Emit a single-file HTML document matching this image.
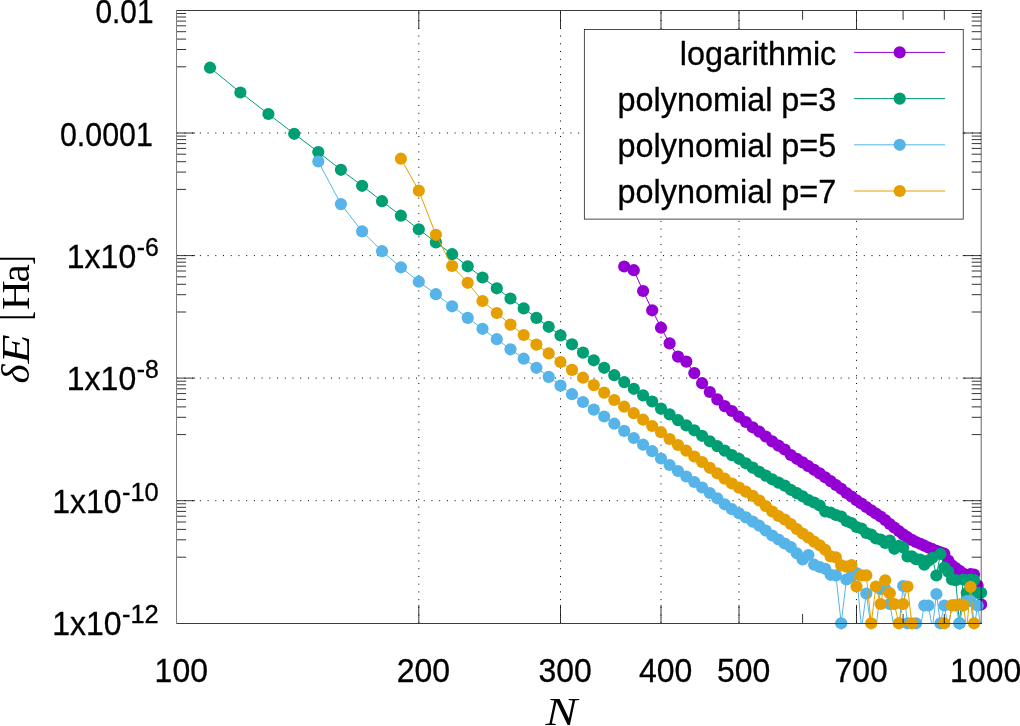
<!DOCTYPE html>
<html><head><meta charset="utf-8"><title>plot</title>
<style>html,body{margin:0;padding:0;background:#fff;}svg{display:block;}
</style></head><body>
<svg width="1020" height="726" viewBox="0 0 1020 726">
<defs><clipPath id="pc"><rect x="176.7" y="10.4" width="804.4" height="612.9"/></clipPath></defs>
<rect width="1020" height="726" fill="#fff"/>
<path d="M418.8 623.3V10.4M560.5 623.3V10.4M661 623.3V10.4M739 623.3V10.4M856.5 623.3V10.4M176.7 133H981.1M176.7 255.6H981.1M176.7 378.1H981.1M176.7 500.7H981.1" stroke="#000" stroke-width="1" stroke-dasharray="1 6.72" fill="none" />
<polyline points="624.2,266.5 633.8,270.2 643.1,291 652.2,310.3 661,327.7 669.6,343.4 678,356.6 686.3,361.6 694.3,373.1 702.1,383.2 709.8,392 717.3,399.4 724.7,406.1 731.9,411 739,416.7 745.9,422 752.7,427.3 759.3,431.7 765.8,436.5 772.2,441.4 778.5,445.6 784.7,449.5 790.8,455 796.8,458.8 802.6,462.4 808.4,466.2 814.1,469.8 819.7,473.4 825.2,477.3 830.6,481.1 835.9,485 841.2,488.8 846.4,493 851.5,496.5 856.5,500.3 861.5,503.5 866.3,507 871.2,510.3 875.9,513.5 880.6,516.5 885.2,520 889.8,524 894.3,527.5 898.8,531 903.1,534.4 907.5,537.2 911.8,539.9 916,542 920.2,543.8 924.3,545.7 928.4,547.5 932.4,549.2 936.4,550.9 940.4,552.3 944.3,553.7 948.2,560.5 952,565.3 955.7,568 959.5,570.8 963.2,573.5 966.8,576.3 970.5,574 974,574.5 977.6,585.6 981.1,604.4" fill="none" stroke="#9400d3" stroke-width="1" clip-path="url(#pc)"/>
<g fill="#9400d3"><circle cx="624.2" cy="266.5" r="6.1"/><circle cx="633.8" cy="270.2" r="6.1"/><circle cx="643.1" cy="291" r="6.1"/><circle cx="652.2" cy="310.3" r="6.1"/><circle cx="661" cy="327.7" r="6.1"/><circle cx="669.6" cy="343.4" r="6.1"/><circle cx="678" cy="356.6" r="6.1"/><circle cx="686.3" cy="361.6" r="6.1"/><circle cx="694.3" cy="373.1" r="6.1"/><circle cx="702.1" cy="383.2" r="6.1"/><circle cx="709.8" cy="392" r="6.1"/><circle cx="717.3" cy="399.4" r="6.1"/><circle cx="724.7" cy="406.1" r="6.1"/><circle cx="731.9" cy="411" r="6.1"/><circle cx="739" cy="416.7" r="6.1"/><circle cx="745.9" cy="422" r="6.1"/><circle cx="752.7" cy="427.3" r="6.1"/><circle cx="759.3" cy="431.7" r="6.1"/><circle cx="765.8" cy="436.5" r="6.1"/><circle cx="772.2" cy="441.4" r="6.1"/><circle cx="778.5" cy="445.6" r="6.1"/><circle cx="784.7" cy="449.5" r="6.1"/><circle cx="790.8" cy="455" r="6.1"/><circle cx="796.8" cy="458.8" r="6.1"/><circle cx="802.6" cy="462.4" r="6.1"/><circle cx="808.4" cy="466.2" r="6.1"/><circle cx="814.1" cy="469.8" r="6.1"/><circle cx="819.7" cy="473.4" r="6.1"/><circle cx="825.2" cy="477.3" r="6.1"/><circle cx="830.6" cy="481.1" r="6.1"/><circle cx="835.9" cy="485" r="6.1"/><circle cx="841.2" cy="488.8" r="6.1"/><circle cx="846.4" cy="493" r="6.1"/><circle cx="851.5" cy="496.5" r="6.1"/><circle cx="856.5" cy="500.3" r="6.1"/><circle cx="861.5" cy="503.5" r="6.1"/><circle cx="866.3" cy="507" r="6.1"/><circle cx="871.2" cy="510.3" r="6.1"/><circle cx="875.9" cy="513.5" r="6.1"/><circle cx="880.6" cy="516.5" r="6.1"/><circle cx="885.2" cy="520" r="6.1"/><circle cx="889.8" cy="524" r="6.1"/><circle cx="894.3" cy="527.5" r="6.1"/><circle cx="898.8" cy="531" r="6.1"/><circle cx="903.1" cy="534.4" r="6.1"/><circle cx="907.5" cy="537.2" r="6.1"/><circle cx="911.8" cy="539.9" r="6.1"/><circle cx="916" cy="542" r="6.1"/><circle cx="920.2" cy="543.8" r="6.1"/><circle cx="924.3" cy="545.7" r="6.1"/><circle cx="928.4" cy="547.5" r="6.1"/><circle cx="932.4" cy="549.2" r="6.1"/><circle cx="936.4" cy="550.9" r="6.1"/><circle cx="940.4" cy="552.3" r="6.1"/><circle cx="944.3" cy="553.7" r="6.1"/><circle cx="948.2" cy="560.5" r="6.1"/><circle cx="952" cy="565.3" r="6.1"/><circle cx="955.7" cy="568" r="6.1"/><circle cx="959.5" cy="570.8" r="6.1"/><circle cx="963.2" cy="573.5" r="6.1"/><circle cx="966.8" cy="576.3" r="6.1"/><circle cx="970.5" cy="574" r="6.1"/><circle cx="974" cy="574.5" r="6.1"/><circle cx="977.6" cy="585.6" r="6.1"/><circle cx="981.1" cy="604.4" r="6.1"/></g>
<polyline points="210,67.7 240.4,92.5 268.4,114 294.2,133.8 318.3,152 340.9,169.8 362.1,185.8 382,201.2 400.9,215.7 418.8,229.3 435.9,242.4 452.1,254.2 467.7,266.3 482.5,277.5 496.8,288.3 510.5,298.5 523.7,308.4 536.4,317.9 548.7,326.8 560.5,335.4 572,344.3 583,352.6 593.8,360.3 604.2,367.8 614.3,375.2 624.2,382.1 633.8,388.8 643.1,395.4 652.2,401.5 661,408.6 669.6,414.4 678,420.1 686.3,425.4 694.3,430.3 702.1,435.8 709.8,441.3 717.3,446.1 724.7,450.6 731.9,455.1 739,458.8 745.9,463.3 752.7,467.6 759.3,471.8 765.8,475.6 772.2,479.3 778.5,482.6 784.7,485.6 790.8,489.8 796.8,493.1 802.6,496.3 808.4,500 814.1,502.5 819.7,505.5 825.2,511.5 830.6,512.5 835.9,515 841.2,516.5 846.4,521 851.5,523 856.5,527 861.5,528.5 866.3,533 871.2,534.5 875.9,538.5 880.6,539.5 885.2,543 889.8,540.5 894.3,548.8 898.8,545.8 903.1,547.5 907.5,556.4 911.8,556.4 916,559.2 920.2,559.5 924.3,564.7 928.4,560.6 932.4,557.8 936.4,575.5 940.4,554 944.3,567.5 948.2,571.6 952,579.5 955.7,580.2 959.5,623.3 963.2,579.5 966.8,592.8 970.5,579.5 974,580 977.6,592.8 981.1,592.8" fill="none" stroke="#009e73" stroke-width="1" clip-path="url(#pc)"/>
<g fill="#009e73"><circle cx="210" cy="67.7" r="6.1"/><circle cx="240.4" cy="92.5" r="6.1"/><circle cx="268.4" cy="114" r="6.1"/><circle cx="294.2" cy="133.8" r="6.1"/><circle cx="318.3" cy="152" r="6.1"/><circle cx="340.9" cy="169.8" r="6.1"/><circle cx="362.1" cy="185.8" r="6.1"/><circle cx="382" cy="201.2" r="6.1"/><circle cx="400.9" cy="215.7" r="6.1"/><circle cx="418.8" cy="229.3" r="6.1"/><circle cx="435.9" cy="242.4" r="6.1"/><circle cx="452.1" cy="254.2" r="6.1"/><circle cx="467.7" cy="266.3" r="6.1"/><circle cx="482.5" cy="277.5" r="6.1"/><circle cx="496.8" cy="288.3" r="6.1"/><circle cx="510.5" cy="298.5" r="6.1"/><circle cx="523.7" cy="308.4" r="6.1"/><circle cx="536.4" cy="317.9" r="6.1"/><circle cx="548.7" cy="326.8" r="6.1"/><circle cx="560.5" cy="335.4" r="6.1"/><circle cx="572" cy="344.3" r="6.1"/><circle cx="583" cy="352.6" r="6.1"/><circle cx="593.8" cy="360.3" r="6.1"/><circle cx="604.2" cy="367.8" r="6.1"/><circle cx="614.3" cy="375.2" r="6.1"/><circle cx="624.2" cy="382.1" r="6.1"/><circle cx="633.8" cy="388.8" r="6.1"/><circle cx="643.1" cy="395.4" r="6.1"/><circle cx="652.2" cy="401.5" r="6.1"/><circle cx="661" cy="408.6" r="6.1"/><circle cx="669.6" cy="414.4" r="6.1"/><circle cx="678" cy="420.1" r="6.1"/><circle cx="686.3" cy="425.4" r="6.1"/><circle cx="694.3" cy="430.3" r="6.1"/><circle cx="702.1" cy="435.8" r="6.1"/><circle cx="709.8" cy="441.3" r="6.1"/><circle cx="717.3" cy="446.1" r="6.1"/><circle cx="724.7" cy="450.6" r="6.1"/><circle cx="731.9" cy="455.1" r="6.1"/><circle cx="739" cy="458.8" r="6.1"/><circle cx="745.9" cy="463.3" r="6.1"/><circle cx="752.7" cy="467.6" r="6.1"/><circle cx="759.3" cy="471.8" r="6.1"/><circle cx="765.8" cy="475.6" r="6.1"/><circle cx="772.2" cy="479.3" r="6.1"/><circle cx="778.5" cy="482.6" r="6.1"/><circle cx="784.7" cy="485.6" r="6.1"/><circle cx="790.8" cy="489.8" r="6.1"/><circle cx="796.8" cy="493.1" r="6.1"/><circle cx="802.6" cy="496.3" r="6.1"/><circle cx="808.4" cy="500" r="6.1"/><circle cx="814.1" cy="502.5" r="6.1"/><circle cx="819.7" cy="505.5" r="6.1"/><circle cx="825.2" cy="511.5" r="6.1"/><circle cx="830.6" cy="512.5" r="6.1"/><circle cx="835.9" cy="515" r="6.1"/><circle cx="841.2" cy="516.5" r="6.1"/><circle cx="846.4" cy="521" r="6.1"/><circle cx="851.5" cy="523" r="6.1"/><circle cx="856.5" cy="527" r="6.1"/><circle cx="861.5" cy="528.5" r="6.1"/><circle cx="866.3" cy="533" r="6.1"/><circle cx="871.2" cy="534.5" r="6.1"/><circle cx="875.9" cy="538.5" r="6.1"/><circle cx="880.6" cy="539.5" r="6.1"/><circle cx="885.2" cy="543" r="6.1"/><circle cx="889.8" cy="540.5" r="6.1"/><circle cx="894.3" cy="548.8" r="6.1"/><circle cx="898.8" cy="545.8" r="6.1"/><circle cx="903.1" cy="547.5" r="6.1"/><circle cx="907.5" cy="556.4" r="6.1"/><circle cx="911.8" cy="556.4" r="6.1"/><circle cx="916" cy="559.2" r="6.1"/><circle cx="920.2" cy="559.5" r="6.1"/><circle cx="924.3" cy="564.7" r="6.1"/><circle cx="928.4" cy="560.6" r="6.1"/><circle cx="932.4" cy="557.8" r="6.1"/><circle cx="936.4" cy="575.5" r="6.1"/><circle cx="940.4" cy="554" r="6.1"/><circle cx="944.3" cy="567.5" r="6.1"/><circle cx="948.2" cy="571.6" r="6.1"/><circle cx="952" cy="579.5" r="6.1"/><circle cx="955.7" cy="580.2" r="6.1"/><circle cx="959.5" cy="623.3" r="6.1"/><circle cx="963.2" cy="579.5" r="6.1"/><circle cx="966.8" cy="592.8" r="6.1"/><circle cx="970.5" cy="579.5" r="6.1"/><circle cx="974" cy="580" r="6.1"/><circle cx="977.6" cy="592.8" r="6.1"/><circle cx="981.1" cy="592.8" r="6.1"/></g>
<polyline points="318.3,161.5 340.9,204.1 362.1,231.4 382,251.2 400.9,267.3 418.8,281.7 435.9,294.2 452.1,306.3 467.7,317.9 482.5,328.8 496.8,339.2 510.5,349.3 523.7,358.7 536.4,367.8 548.7,376.9 560.5,385.6 572,394.2 583,402 593.8,409.6 604.2,416.5 614.3,423.7 624.2,430.9 633.8,438 643.1,444.7 652.2,451.2 661,458.5 669.6,465 678,471 686.3,476.5 694.3,482 702.1,487.5 709.8,493 717.3,498.3 724.7,504.3 731.9,509.2 739,513.3 745.9,517.4 752.7,521.6 759.3,525.7 765.8,530.5 772.2,535.5 778.5,539.5 784.7,543.5 790.8,547.1 796.8,553.3 802.6,559.5 808.4,555 814.1,564.7 819.7,567 825.2,568.8 830.6,574.8 835.9,575.4 841.2,623.3 846.4,579.5 851.5,576.5 856.5,573 861.5,628.5 866.3,593.5 871.2,628.5 875.9,628.5 880.6,589 885.2,589 889.8,604 894.3,628.5 898.8,628.5 903.1,586 907.5,623.3 911.8,628.5 916,623.3 920.2,628.5 924.3,605.5 928.4,605.5 932.4,628.5 936.4,594 940.4,623.3 944.3,605.5 948.2,628.5 952,605.5 955.7,605.5 959.5,623.3 963.2,605.5 966.8,601 970.5,601 974,628.5 977.6,605.5 981.1,628.5" fill="none" stroke="#56b4e9" stroke-width="1" clip-path="url(#pc)"/>
<g fill="#56b4e9"><circle cx="318.3" cy="161.5" r="6.1"/><circle cx="340.9" cy="204.1" r="6.1"/><circle cx="362.1" cy="231.4" r="6.1"/><circle cx="382" cy="251.2" r="6.1"/><circle cx="400.9" cy="267.3" r="6.1"/><circle cx="418.8" cy="281.7" r="6.1"/><circle cx="435.9" cy="294.2" r="6.1"/><circle cx="452.1" cy="306.3" r="6.1"/><circle cx="467.7" cy="317.9" r="6.1"/><circle cx="482.5" cy="328.8" r="6.1"/><circle cx="496.8" cy="339.2" r="6.1"/><circle cx="510.5" cy="349.3" r="6.1"/><circle cx="523.7" cy="358.7" r="6.1"/><circle cx="536.4" cy="367.8" r="6.1"/><circle cx="548.7" cy="376.9" r="6.1"/><circle cx="560.5" cy="385.6" r="6.1"/><circle cx="572" cy="394.2" r="6.1"/><circle cx="583" cy="402" r="6.1"/><circle cx="593.8" cy="409.6" r="6.1"/><circle cx="604.2" cy="416.5" r="6.1"/><circle cx="614.3" cy="423.7" r="6.1"/><circle cx="624.2" cy="430.9" r="6.1"/><circle cx="633.8" cy="438" r="6.1"/><circle cx="643.1" cy="444.7" r="6.1"/><circle cx="652.2" cy="451.2" r="6.1"/><circle cx="661" cy="458.5" r="6.1"/><circle cx="669.6" cy="465" r="6.1"/><circle cx="678" cy="471" r="6.1"/><circle cx="686.3" cy="476.5" r="6.1"/><circle cx="694.3" cy="482" r="6.1"/><circle cx="702.1" cy="487.5" r="6.1"/><circle cx="709.8" cy="493" r="6.1"/><circle cx="717.3" cy="498.3" r="6.1"/><circle cx="724.7" cy="504.3" r="6.1"/><circle cx="731.9" cy="509.2" r="6.1"/><circle cx="739" cy="513.3" r="6.1"/><circle cx="745.9" cy="517.4" r="6.1"/><circle cx="752.7" cy="521.6" r="6.1"/><circle cx="759.3" cy="525.7" r="6.1"/><circle cx="765.8" cy="530.5" r="6.1"/><circle cx="772.2" cy="535.5" r="6.1"/><circle cx="778.5" cy="539.5" r="6.1"/><circle cx="784.7" cy="543.5" r="6.1"/><circle cx="790.8" cy="547.1" r="6.1"/><circle cx="796.8" cy="553.3" r="6.1"/><circle cx="802.6" cy="559.5" r="6.1"/><circle cx="808.4" cy="555" r="6.1"/><circle cx="814.1" cy="564.7" r="6.1"/><circle cx="819.7" cy="567" r="6.1"/><circle cx="825.2" cy="568.8" r="6.1"/><circle cx="830.6" cy="574.8" r="6.1"/><circle cx="835.9" cy="575.4" r="6.1"/><circle cx="841.2" cy="623.3" r="6.1"/><circle cx="846.4" cy="579.5" r="6.1"/><circle cx="851.5" cy="576.5" r="6.1"/><circle cx="856.5" cy="573" r="6.1"/><circle cx="866.3" cy="593.5" r="6.1"/><circle cx="880.6" cy="589" r="6.1"/><circle cx="885.2" cy="589" r="6.1"/><circle cx="889.8" cy="604" r="6.1"/><circle cx="903.1" cy="586" r="6.1"/><circle cx="907.5" cy="623.3" r="6.1"/><circle cx="916" cy="623.3" r="6.1"/><circle cx="924.3" cy="605.5" r="6.1"/><circle cx="928.4" cy="605.5" r="6.1"/><circle cx="936.4" cy="594" r="6.1"/><circle cx="940.4" cy="623.3" r="6.1"/><circle cx="944.3" cy="605.5" r="6.1"/><circle cx="952" cy="605.5" r="6.1"/><circle cx="955.7" cy="605.5" r="6.1"/><circle cx="959.5" cy="623.3" r="6.1"/><circle cx="963.2" cy="605.5" r="6.1"/><circle cx="966.8" cy="601" r="6.1"/><circle cx="970.5" cy="601" r="6.1"/><circle cx="977.6" cy="605.5" r="6.1"/></g>
<polyline points="400.9,158.7 418.8,190.7 435.9,234.8 452.1,266 467.7,282.8 482.5,301 496.8,313 510.5,324.6 523.7,335 536.4,344.6 548.7,353.4 560.5,362 572,369.9 583,377.7 593.8,385.1 604.2,392.6 614.3,400 624.2,406.7 633.8,413.2 643.1,419.7 652.2,426 661,432.2 669.6,439 678,445 686.3,450.7 694.3,456.5 702.1,462 709.8,467.8 717.3,473.3 724.7,478.7 731.9,483.5 739,487.6 745.9,491.7 752.7,495.9 759.3,500.5 765.8,506 772.2,511.5 778.5,516 784.7,519.5 790.8,524 796.8,529 802.6,533.5 808.4,537.5 814.1,541.7 819.7,545.3 825.2,549.8 830.6,556.4 835.9,557.4 841.2,565.3 846.4,566.7 851.5,565 856.5,586.5 861.5,575.4 866.3,575.4 871.2,623.3 875.9,586.5 880.6,604 885.2,580.3 889.8,593.2 894.3,604 898.8,623.3 903.1,604 907.5,586.5 911.8,623.3 916,628.5 920.2,628.5 924.3,628.5 928.4,628.5 932.4,628.5 936.4,628.5 940.4,628.5 944.3,623.3 948.2,628.5 952,605.3 955.7,605 959.5,604.4 963.2,605.3 966.8,628.5 970.5,586.8 974,623.3 977.6,628.5 981.1,628.5" fill="none" stroke="#e69f00" stroke-width="1" clip-path="url(#pc)"/>
<g fill="#e69f00"><circle cx="400.9" cy="158.7" r="6.1"/><circle cx="418.8" cy="190.7" r="6.1"/><circle cx="435.9" cy="234.8" r="6.1"/><circle cx="452.1" cy="266" r="6.1"/><circle cx="467.7" cy="282.8" r="6.1"/><circle cx="482.5" cy="301" r="6.1"/><circle cx="496.8" cy="313" r="6.1"/><circle cx="510.5" cy="324.6" r="6.1"/><circle cx="523.7" cy="335" r="6.1"/><circle cx="536.4" cy="344.6" r="6.1"/><circle cx="548.7" cy="353.4" r="6.1"/><circle cx="560.5" cy="362" r="6.1"/><circle cx="572" cy="369.9" r="6.1"/><circle cx="583" cy="377.7" r="6.1"/><circle cx="593.8" cy="385.1" r="6.1"/><circle cx="604.2" cy="392.6" r="6.1"/><circle cx="614.3" cy="400" r="6.1"/><circle cx="624.2" cy="406.7" r="6.1"/><circle cx="633.8" cy="413.2" r="6.1"/><circle cx="643.1" cy="419.7" r="6.1"/><circle cx="652.2" cy="426" r="6.1"/><circle cx="661" cy="432.2" r="6.1"/><circle cx="669.6" cy="439" r="6.1"/><circle cx="678" cy="445" r="6.1"/><circle cx="686.3" cy="450.7" r="6.1"/><circle cx="694.3" cy="456.5" r="6.1"/><circle cx="702.1" cy="462" r="6.1"/><circle cx="709.8" cy="467.8" r="6.1"/><circle cx="717.3" cy="473.3" r="6.1"/><circle cx="724.7" cy="478.7" r="6.1"/><circle cx="731.9" cy="483.5" r="6.1"/><circle cx="739" cy="487.6" r="6.1"/><circle cx="745.9" cy="491.7" r="6.1"/><circle cx="752.7" cy="495.9" r="6.1"/><circle cx="759.3" cy="500.5" r="6.1"/><circle cx="765.8" cy="506" r="6.1"/><circle cx="772.2" cy="511.5" r="6.1"/><circle cx="778.5" cy="516" r="6.1"/><circle cx="784.7" cy="519.5" r="6.1"/><circle cx="790.8" cy="524" r="6.1"/><circle cx="796.8" cy="529" r="6.1"/><circle cx="802.6" cy="533.5" r="6.1"/><circle cx="808.4" cy="537.5" r="6.1"/><circle cx="814.1" cy="541.7" r="6.1"/><circle cx="819.7" cy="545.3" r="6.1"/><circle cx="825.2" cy="549.8" r="6.1"/><circle cx="830.6" cy="556.4" r="6.1"/><circle cx="835.9" cy="557.4" r="6.1"/><circle cx="841.2" cy="565.3" r="6.1"/><circle cx="846.4" cy="566.7" r="6.1"/><circle cx="851.5" cy="565" r="6.1"/><circle cx="856.5" cy="586.5" r="6.1"/><circle cx="861.5" cy="575.4" r="6.1"/><circle cx="866.3" cy="575.4" r="6.1"/><circle cx="871.2" cy="623.3" r="6.1"/><circle cx="875.9" cy="586.5" r="6.1"/><circle cx="880.6" cy="604" r="6.1"/><circle cx="885.2" cy="580.3" r="6.1"/><circle cx="889.8" cy="593.2" r="6.1"/><circle cx="894.3" cy="604" r="6.1"/><circle cx="898.8" cy="623.3" r="6.1"/><circle cx="903.1" cy="604" r="6.1"/><circle cx="907.5" cy="586.5" r="6.1"/><circle cx="911.8" cy="623.3" r="6.1"/><circle cx="944.3" cy="623.3" r="6.1"/><circle cx="952" cy="605.3" r="6.1"/><circle cx="955.7" cy="605" r="6.1"/><circle cx="959.5" cy="604.4" r="6.1"/><circle cx="963.2" cy="605.3" r="6.1"/><circle cx="970.5" cy="586.8" r="6.1"/><circle cx="974" cy="623.3" r="6.1"/></g>
<rect x="584.3" y="29.4" width="378.9" height="189.7" fill="#fff" stroke="#000" stroke-width="0.7"/>
<line x1="854.1" y1="52.4" x2="945" y2="52.4" stroke="#9400d3" stroke-width="1"/>
<circle cx="899.7" cy="52.4" r="6.1" fill="#9400d3"/>
<line x1="854.1" y1="98.6" x2="945" y2="98.6" stroke="#009e73" stroke-width="1"/>
<circle cx="899.7" cy="98.6" r="6.1" fill="#009e73"/>
<line x1="854.1" y1="144.8" x2="945" y2="144.8" stroke="#56b4e9" stroke-width="1"/>
<circle cx="899.7" cy="144.8" r="6.1" fill="#56b4e9"/>
<line x1="854.1" y1="191" x2="945" y2="191" stroke="#e69f00" stroke-width="1"/>
<circle cx="899.7" cy="191" r="6.1" fill="#e69f00"/>
<g font-family="'Liberation Sans', Arial, Helvetica, sans-serif" font-size="32.4" fill="#000" stroke="#000" stroke-width="0.3">
<text transform="translate(836.3 64.5) scale(1 1.04)" text-anchor="end">logarithmic</text>
<text transform="translate(836.3 110.7) scale(1 1.04)" text-anchor="end">polynomial p=3</text>
<text transform="translate(836.3 156.9) scale(1 1.04)" text-anchor="end">polynomial p=5</text>
<text transform="translate(836.3 203.1) scale(1 1.04)" text-anchor="end">polynomial p=7</text>
</g>
<path d="M418.8 623.3v-18.4M418.8 10.4v18.4M560.5 623.3v-18.4M560.5 10.4v18.4M661 623.3v-18.4M661 10.4v18.4M739 623.3v-18.4M739 10.4v18.4M856.5 623.3v-18.4M856.5 10.4v18.4M802.6 623.3v-9.4M802.6 10.4v9.4M903.1 623.3v-9.4M903.1 10.4v9.4M944.3 623.3v-9.4M944.3 10.4v9.4M176.7 133h18.4M981.1 133h-18.4M176.7 255.6h18.4M981.1 255.6h-18.4M176.7 378.1h18.4M981.1 378.1h-18.4M176.7 500.7h18.4M981.1 500.7h-18.4M176.7 66.8h9.4M981.1 66.8h-9.4M176.7 49.5h9.4M981.1 49.5h-9.4M176.7 39.1h9.4M981.1 39.1h-9.4M176.7 31.7h9.4M981.1 31.7h-9.4M176.7 25.8h9.4M981.1 25.8h-9.4M176.7 21.1h9.4M981.1 21.1h-9.4M176.7 17h9.4M981.1 17h-9.4M176.7 13.5h9.4M981.1 13.5h-9.4M176.7 189.4h9.4M981.1 189.4h-9.4M176.7 172.1h9.4M981.1 172.1h-9.4M176.7 161.7h9.4M981.1 161.7h-9.4M176.7 154.2h9.4M981.1 154.2h-9.4M176.7 148.4h9.4M981.1 148.4h-9.4M176.7 143.6h9.4M981.1 143.6h-9.4M176.7 139.6h9.4M981.1 139.6h-9.4M176.7 136.1h9.4M981.1 136.1h-9.4M176.7 312h9.4M981.1 312h-9.4M176.7 294.7h9.4M981.1 294.7h-9.4M176.7 284.3h9.4M981.1 284.3h-9.4M176.7 276.8h9.4M981.1 276.8h-9.4M176.7 271h9.4M981.1 271h-9.4M176.7 266.2h9.4M981.1 266.2h-9.4M176.7 262.2h9.4M981.1 262.2h-9.4M176.7 258.7h9.4M981.1 258.7h-9.4M176.7 434.6h9.4M981.1 434.6h-9.4M176.7 417.3h9.4M981.1 417.3h-9.4M176.7 406.9h9.4M981.1 406.9h-9.4M176.7 399.4h9.4M981.1 399.4h-9.4M176.7 393.6h9.4M981.1 393.6h-9.4M176.7 388.8h9.4M981.1 388.8h-9.4M176.7 384.8h9.4M981.1 384.8h-9.4M176.7 381.2h9.4M981.1 381.2h-9.4M176.7 557.2h9.4M981.1 557.2h-9.4M176.7 539.8h9.4M981.1 539.8h-9.4M176.7 529.4h9.4M981.1 529.4h-9.4M176.7 522h9.4M981.1 522h-9.4M176.7 516.2h9.4M981.1 516.2h-9.4M176.7 511.4h9.4M981.1 511.4h-9.4M176.7 507.3h9.4M981.1 507.3h-9.4M176.7 503.8h9.4M981.1 503.8h-9.4" stroke="#000" stroke-width="0.8" fill="none"/>
<path d="M176 10.5H982M176 623.5H982" stroke="#3c3c3c" stroke-width="1" fill="none"/>
<path d="M176.5 10V624" stroke="#7d7d7d" stroke-width="1" fill="none"/>
<path d="M981.2 10V624" stroke="#000" stroke-width="0.6" fill="none"/>
<g font-family="'Liberation Sans', Arial, Helvetica, sans-serif" font-size="32" fill="#000" stroke="#000" stroke-width="0.3">
<text transform="translate(153.5 23) scale(1 1.06)" text-anchor="end" textLength="58" lengthAdjust="spacingAndGlyphs">0.01</text>
<text transform="translate(152.9 145.6) scale(1 1.06)" text-anchor="end" textLength="93" lengthAdjust="spacingAndGlyphs">0.0001</text>
<text transform="translate(136.2 267.7) scale(1 1.06)" text-anchor="end">1x10</text>
<text transform="translate(158.7 255.6) scale(1 1.06)" text-anchor="end" font-size="24.6" textLength="22" lengthAdjust="spacingAndGlyphs">-6</text>
<text transform="translate(136.2 390.2) scale(1 1.06)" text-anchor="end">1x10</text>
<text transform="translate(158.7 378.1) scale(1 1.06)" text-anchor="end" font-size="24.6" textLength="22" lengthAdjust="spacingAndGlyphs">-8</text>
<text transform="translate(121.6 512.8) scale(1 1.06)" text-anchor="end">1x10</text>
<text transform="translate(158.7 500.7) scale(1 1.06)" text-anchor="end" font-size="24.6" textLength="36.8" lengthAdjust="spacingAndGlyphs">-10</text>
<text transform="translate(121.6 635.4) scale(1 1.06)" text-anchor="end">1x10</text>
<text transform="translate(158.7 623.3) scale(1 1.06)" text-anchor="end" font-size="24.6" textLength="36.8" lengthAdjust="spacingAndGlyphs">-12</text>
<text transform="translate(181.3 681.8) scale(1 1.06)" text-anchor="middle">100</text>
<text transform="translate(423.4 681.8) scale(1 1.06)" text-anchor="middle">200</text>
<text transform="translate(565.1 681.8) scale(1 1.06)" text-anchor="middle">300</text>
<text transform="translate(665.6 681.8) scale(1 1.06)" text-anchor="middle">400</text>
<text transform="translate(743.6 681.8) scale(1 1.06)" text-anchor="middle">500</text>
<text transform="translate(861.1 681.8) scale(1 1.06)" text-anchor="middle">700</text>
<text transform="translate(985.7 681.8) scale(1 1.06)" text-anchor="middle">1000</text>
</g>
<g transform="translate(29.2 382.2) rotate(-90)" font-family="'Liberation Serif', 'DejaVu Serif', serif" font-size="41" fill="#000">
<text x="-1.2" y="0" font-style="italic">δ</text>
<text x="18.7" y="0" font-style="italic" textLength="29" lengthAdjust="spacingAndGlyphs">E</text>
<text transform="translate(62 0) scale(1 1.12)" textLength="9" lengthAdjust="spacingAndGlyphs">[</text>
<text x="72.1" y="0">H</text>
<text x="99.7" y="0">a</text>
<text transform="translate(117.5 0) scale(1 1.12)" textLength="9" lengthAdjust="spacingAndGlyphs">]</text>
</g>
<text x="545.5" y="724.6" font-family="'Liberation Serif', 'DejaVu Serif', serif" font-style="italic" font-size="41" textLength="31.7" lengthAdjust="spacingAndGlyphs">N</text>
</svg>
</body></html>
